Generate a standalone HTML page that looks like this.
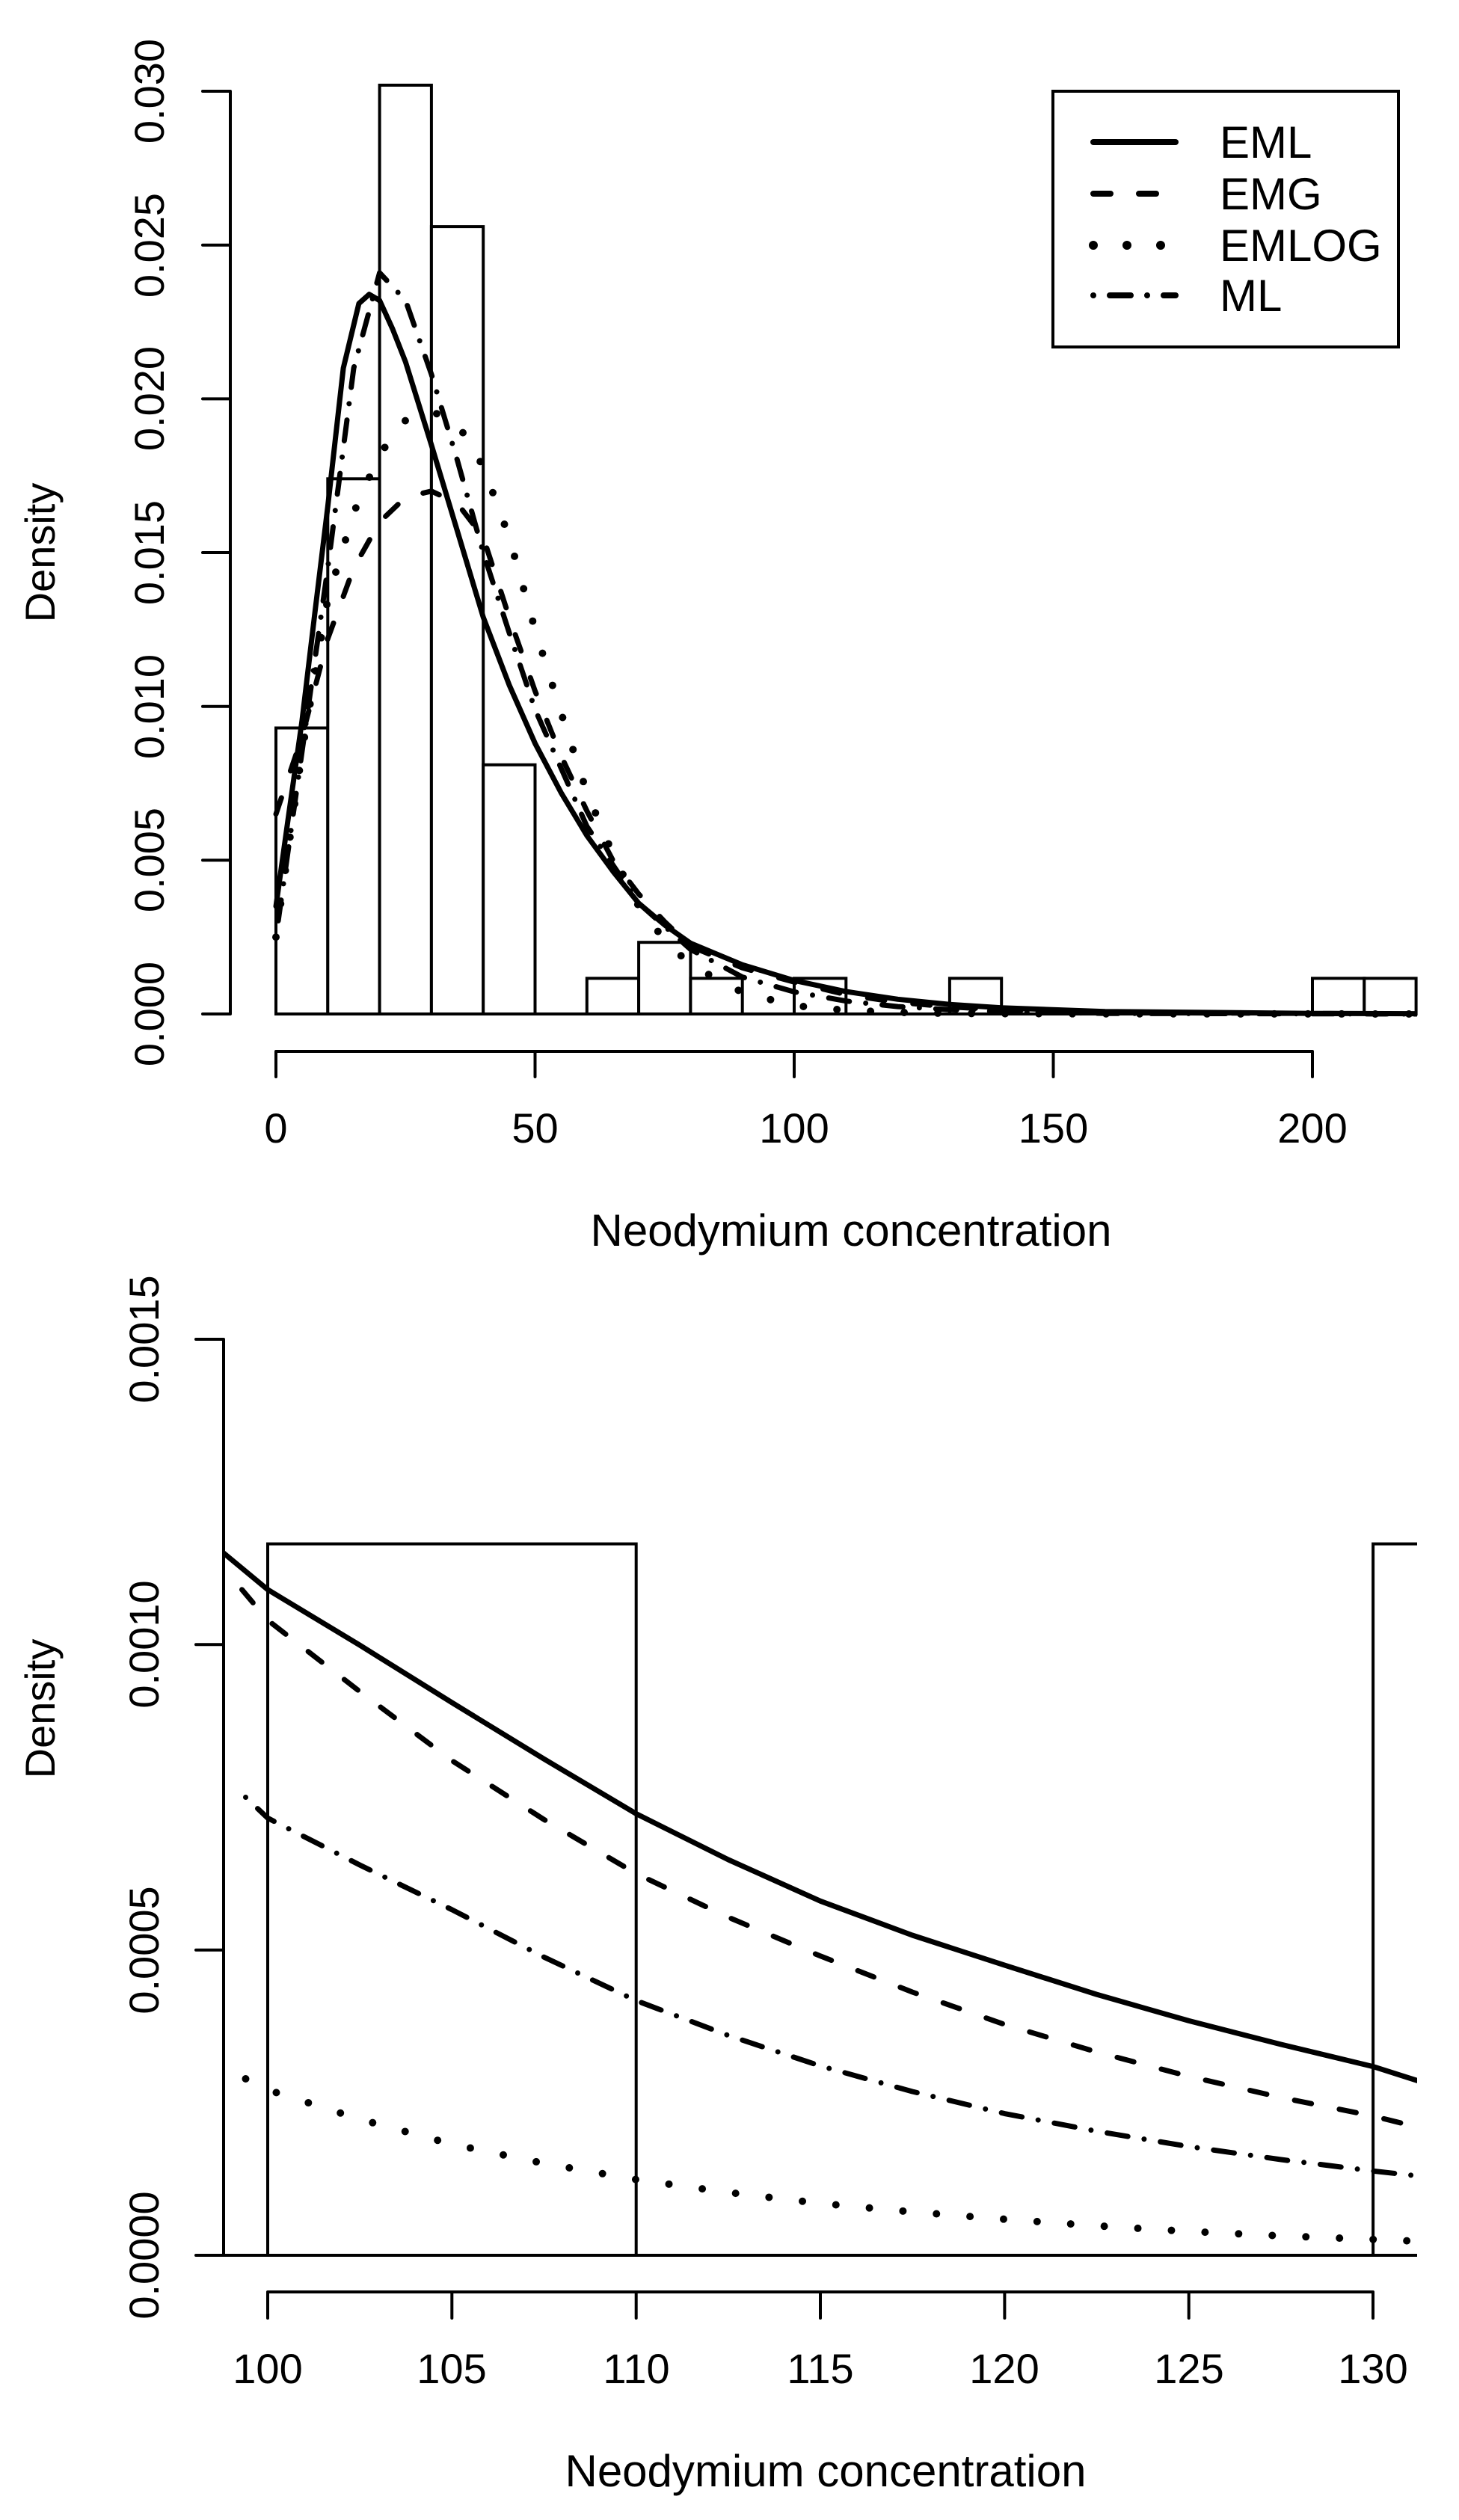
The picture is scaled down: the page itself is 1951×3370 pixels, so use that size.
<!DOCTYPE html>
<html><head><meta charset="utf-8">
<style>
html,body{margin:0;padding:0;background:#fff;}
svg{display:block;}
text{font-family:"Liberation Sans",Arial,sans-serif;fill:#000;}
</style></head>
<body>
<svg width="1951" height="3370" viewBox="0 0 1951 3370" xmlns="http://www.w3.org/2000/svg">
<defs>
<clipPath id="ct"><rect x="300" y="0" width="1595" height="1420"/></clipPath>
<clipPath id="cb"><rect x="299" y="1600" width="1596" height="1470"/></clipPath>
</defs>

<!-- top histogram -->
<g stroke="#000" stroke-width="4" fill="#fff">
<path d="M369 1356 H1893.6"/>
<rect x="369" y="973.5" width="69.3" height="382.5"/>
<rect x="438.3" y="640.3" width="69.3" height="715.7"/>
<rect x="507.6" y="113.9" width="69.3" height="1242.1"/>
<rect x="576.9" y="303.1" width="69.3" height="1052.9"/>
<rect x="646.2" y="1022.8" width="69.3" height="333.2"/>
<rect x="784.8" y="1308.3" width="69.3" height="47.7"/>
<rect x="854.1" y="1260.2" width="69.3" height="95.8"/>
<rect x="923.4" y="1308.3" width="69.3" height="47.7"/>
<rect x="1062" y="1308.3" width="69.3" height="47.7"/>
<rect x="1269.9" y="1308.3" width="69.3" height="47.7"/>
<rect x="1755" y="1308.3" width="69.3" height="47.7"/>
<rect x="1824.3" y="1308.3" width="69.3" height="47.7"/>
</g>

<!-- top curves -->
<g stroke="#000" fill="none" stroke-width="7" stroke-linecap="round" stroke-linejoin="round" clip-path="url(#ct)">
<polyline stroke-dasharray="0 22 28 22" points="369,1253.2 403.7,1006.4 438.3,759.6 473,492.3 507.6,364.8 542.3,401.8 576.9,500.5 611.6,615.7 646.2,739.1 680.9,846 715.5,948.8 784.8,1105.1 854.1,1207.9 923.4,1269.6 992.7,1306.6 1062,1326.4 1131.3,1338.7 1200.6,1346.1 1269.9,1350.2 1339.2,1352.7 1477.8,1355.2 1893.6,1356"/>
<polyline stroke-width="10" stroke-dasharray="0 45" points="369,1253.2 403.7,1006.4 438.3,800.8 473,685.6 507.6,607.4 542.3,562.2 576.9,549.9 611.6,566.3 646.2,623.9 680.9,718.5 715.5,841.9 750.2,952.9 784.8,1059.9 819.5,1142.1 854.1,1212 888.8,1257.3 923.4,1290.2 992.7,1327.2 1062,1344.9 1131.3,1351.1 1200.6,1353.9 1269.9,1355.2 1339.2,1355.6 1893.6,1356"/>
<polyline stroke-dasharray="23 38" points="369,1088.7 403.7,985.8 438.3,854.2 473,759.6 507.6,698.1 542.3,665 576.9,656.8 611.6,673.2 646.2,718.5 680.9,825.4 715.5,924.1 750.2,1010.5 784.8,1084.5 819.5,1150.4 854.1,1195.6 888.8,1232.6 923.4,1265.5 992.7,1294.3 1062,1313.2 1131.3,1330.1 1200.6,1340.4 1269.9,1346.5 1339.2,1350.2 1477.8,1353.9 1893.6,1356"/>
<polyline points="369,1212 386,1090 403.7,965.3 421,820 438.3,677.4 459.1,492.3 479.9,405.9 493.7,393.6 507.6,401.8 525,440 542.3,484 576.9,595.1 611.6,710.3 646.2,825.4 680.9,915.9 715.5,994.1 750.2,1059.9 784.8,1117.4 819.5,1165 854.1,1207.9 888.8,1237 923.4,1261.4 992.7,1290.2 1062,1311.2 1131.3,1326 1200.6,1336.3 1269.9,1343.2 1339.2,1347.8 1477.8,1352.7 1755,1355.2 1893.6,1355.6"/>
</g>

<!-- top axes -->
<g stroke="#000" stroke-width="4" fill="none" stroke-linecap="round">
<path d="M308 1356 V122 M271 1356 H308 M271 1150.35 H308 M271 944.7 H308 M271 739 H308 M271 533.4 H308 M271 327.7 H308 M271 122 H308"/>
<path d="M369 1406 H1755 M369 1406 V1440 M715.5 1406 V1440 M1062 1406 V1440 M1408.5 1406 V1440 M1755 1406 V1440"/>
</g>
<g font-size="56" text-anchor="middle">
<text transform="translate(219,1356) rotate(-90)">0.000</text>
<text transform="translate(219,1150) rotate(-90)">0.005</text>
<text transform="translate(219,945) rotate(-90)">0.010</text>
<text transform="translate(219,739) rotate(-90)">0.015</text>
<text transform="translate(219,533) rotate(-90)">0.020</text>
<text transform="translate(219,328) rotate(-90)">0.025</text>
<text transform="translate(219,122) rotate(-90)">0.030</text>
<text x="369" y="1528">0</text>
<text x="715.5" y="1528">50</text>
<text x="1062" y="1528">100</text>
<text x="1408.5" y="1528">150</text>
<text x="1755" y="1528">200</text>
<text x="1138" y="1666" font-size="60">Neodymium concentration</text>
<text transform="translate(73,739) rotate(-90)">Density</text>
</g>

<!-- legend -->
<rect x="1408" y="122" width="462" height="342" fill="#fff" stroke="#000" stroke-width="4"/>
<g stroke="#000" stroke-width="8" stroke-linecap="round" fill="none">
<path d="M1462 190 H1572"/>
<path d="M1462 259 H1572" stroke-dasharray="23 38"/>
<path d="M1462 328 H1572" stroke-dasharray="0 45" stroke-width="12"/>
<path d="M1462 395 H1572" stroke-dasharray="0 22 28 22"/>
</g>
<g font-size="60">
<text x="1631" y="211">EML</text>
<text x="1631" y="280">EMG</text>
<text x="1631" y="349">EMLOG</text>
<text x="1631" y="416">ML</text>
</g>

<!-- bottom histogram -->
<g stroke="#000" stroke-width="4" fill="none" clip-path="url(#cb)">
<path d="M299 3016 H1895 M358 3016 V2064.6 H850.7 V3016 M1836.1 3016 V2064.6 H1900"/>
</g>

<!-- bottom curves -->
<g stroke="#000" fill="none" stroke-width="7" stroke-linecap="round" stroke-linejoin="round" clip-path="url(#cb)">
<polyline stroke-width="10" stroke-dasharray="0 45" points="328.5,2780 358,2794.7 481,2834 604.35,2867.4 727,2893 850.7,2914.7 974,2932 1097.05,2946.6 1220,2958 1343.4,2967.8 1466,2976.5 1589.75,2984.1 1713,2990 1836.1,2994.8 1895.2,2997.2"/>
<polyline stroke-dasharray="0 22 28 22" points="328.5,2403.5 358,2431.3 481,2494 604.35,2553.8 727,2617 850.7,2675.4 974,2722 1097.05,2762.8 1220,2797 1343.4,2826.5 1466,2850 1589.75,2870.6 1713,2888 1836.1,2903.3 1895.2,2909.8"/>
<polyline stroke-dasharray="23 38" points="323.5,2125.8 358,2166.7 481,2262 604.35,2354.5 727,2433 850.7,2505.6 974,2564 1097.05,2615.8 1220,2664 1343.4,2707.3 1466,2744 1589.75,2776.7 1713,2805 1836.1,2829.8 1895.2,2844.5"/>
<polyline points="298.9,2076.8 358,2125.8 481,2200 604.35,2276.9 727,2352 850.7,2425.5 974,2487 1097.05,2542.3 1220,2588 1343.4,2628.1 1466,2667 1589.75,2702.4 1713,2734 1836.1,2763.6 1895.2,2782.4"/>
</g>

<!-- bottom axes -->
<g stroke="#000" stroke-width="4" fill="none" stroke-linecap="round">
<path d="M299 3016 V1791 M262 3016 H299 M262 2607.7 H299 M262 2199.3 H299 M262 1791 H299"/>
<path d="M358 3065 H1836 M358 3065 V3100 M604.3 3065 V3100 M850.7 3065 V3100 M1097 3065 V3100 M1343.4 3065 V3100 M1589.7 3065 V3100 M1836 3065 V3100"/>
</g>
<g font-size="56" text-anchor="middle">
<text transform="translate(212,3016) rotate(-90)">0.0000</text>
<text transform="translate(212,2608) rotate(-90)">0.0005</text>
<text transform="translate(212,2199) rotate(-90)">0.0010</text>
<text transform="translate(212,1791) rotate(-90)">0.0015</text>
<text x="358" y="3187">100</text>
<text x="604" y="3187">105</text>
<text x="851" y="3187">110</text>
<text x="1097" y="3187">115</text>
<text x="1343" y="3187">120</text>
<text x="1590" y="3187">125</text>
<text x="1836" y="3187">130</text>
<text x="1104" y="3325" font-size="60">Neodymium concentration</text>
<text transform="translate(73,2285) rotate(-90)">Density</text>
</g>
</svg>
</body></html>
